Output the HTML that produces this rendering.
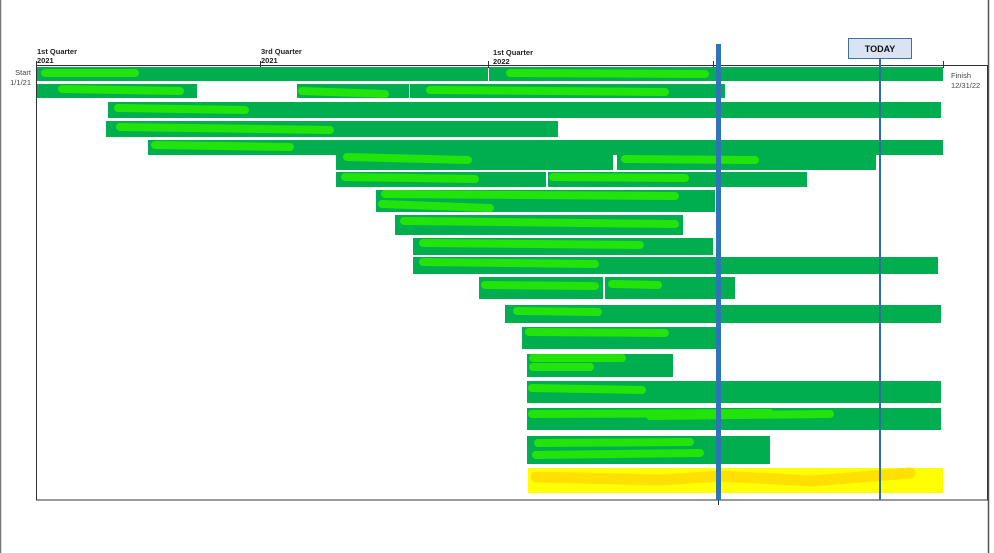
<!DOCTYPE html>
<html><head><meta charset="utf-8"><style>
html,body{margin:0;padding:0;background:#fff;}
svg{display:block;font-family:"Liberation Sans",sans-serif;}
</style></head><body>
<svg width="994" height="553" viewBox="0 0 994 553" xmlns="http://www.w3.org/2000/svg">
<rect x="0" y="0" width="994" height="553" fill="#fff"/>
<line x1="0.5" y1="0" x2="0.5" y2="553" stroke="#777" stroke-width="1.5"/>
<line x1="988.5" y1="0" x2="988.5" y2="553" stroke="#555" stroke-width="1.5"/>
<rect x="36.5" y="65.5" width="951" height="434.5" fill="none" stroke="#333" stroke-width="1"/>
<g stroke="#333" stroke-width="1">
<line x1="36.5" y1="61" x2="36.5" y2="68"/><line x1="260.5" y1="61" x2="260.5" y2="68"/>
<line x1="488.5" y1="61" x2="488.5" y2="68"/><line x1="713.5" y1="61" x2="713.5" y2="68"/>
<line x1="943.5" y1="61" x2="943.5" y2="68"/>
</g>
<g font-size="7.5" font-weight="bold" fill="#222">
<text x="37" y="54">1st Quarter</text><text x="37" y="63">2021</text>
<text x="261" y="54">3rd Quarter</text><text x="261" y="63">2021</text>
<text x="493" y="55">1st Quarter</text><text x="493" y="64">2022</text>
</g>
<g font-size="7.5" fill="#444">
<text x="31" y="75" text-anchor="end">Start</text><text x="31" y="85" text-anchor="end">1/1/21</text>
<text x="951" y="78">Finish</text><text x="951" y="88">12/31/22</text>
</g>
<g fill="#00ae4f">
<rect x="37" y="67" width="451" height="14"/><rect x="489" y="67" width="454" height="14"/>
<rect x="37" y="84" width="160" height="14"/><rect x="297" y="84" width="112" height="14"/><rect x="410" y="84" width="315" height="14"/>
<rect x="108" y="102" width="833" height="16"/>
<rect x="106" y="121" width="452" height="16"/>
<rect x="148" y="140" width="795" height="15"/>
<rect x="336" y="155" width="277" height="15"/><rect x="617" y="155" width="259" height="15"/>
<rect x="336" y="172" width="210" height="15"/><rect x="548" y="172" width="259" height="15"/>
<rect x="376" y="190" width="339" height="22"/>
<rect x="395" y="215" width="288" height="20"/>
<rect x="413" y="238" width="300" height="17"/>
<rect x="413" y="257" width="525" height="17"/>
<rect x="479" y="277" width="124" height="22"/><rect x="605" y="277" width="130" height="22"/>
<rect x="505" y="305" width="436" height="18"/>
<rect x="522" y="327" width="194" height="22"/>
<rect x="527" y="354" width="146" height="23"/>
<rect x="527" y="381" width="414" height="22"/>
<rect x="527" y="408" width="414" height="22"/>
<rect x="527" y="436" width="243" height="28"/>
</g>
<rect x="528" y="468" width="415" height="25" fill="#ffff00"/>
<g stroke="#22e40a" stroke-width="8" stroke-linecap="round" fill="none">
<path d="M45 73 L135 73"/><path d="M62 89 L180 91"/><path d="M302 91 L385 94"/><path d="M430 90 L665 92"/>
<path d="M510 73 L705 74"/><path d="M118 108 L245 110"/><path d="M120 127 L330 130"/>
<path d="M155 145 L290 147"/><path d="M347 157 L468 160"/><path d="M625 159 L755 160"/>
<path d="M345 177 L475 179"/><path d="M553 177 L685 178"/><path d="M385 194 L675 196 M382 204 L490 208"/>
<path d="M404 221 L675 224"/><path d="M423 243 L640 245"/><path d="M423 262 L595 264"/>
<path d="M485 285 L595 286"/><path d="M612 284 L658 285"/><path d="M517 311 L598 312"/>
<path d="M529 332 L665 333"/><path d="M533 358 L622 358 M533 367 L590 367"/>
<path d="M532 388 L642 390"/><path d="M532 414 L770 413 M650 416 L830 414"/>
<path d="M538 443 L690 442 M536 455 L700 453"/>
</g>
<g stroke="#ffe000" stroke-width="11" stroke-linecap="round" fill="none">
<path d="M536 477 L660 480 L720 476 L812 481 L910 473"/>
</g>
<line x1="880" y1="57" x2="880" y2="500" stroke="#2e6fa0" stroke-width="2"/>
<rect x="848.5" y="38.5" width="63" height="20" fill="#dae3f3" stroke="#41719c" stroke-width="1"/>
<text x="880" y="52" font-size="9" font-weight="bold" text-anchor="middle" fill="#111">TODAY</text>
<rect x="716" y="44" width="5" height="456" fill="#2e75b6"/>
<line x1="718.5" y1="500" x2="718.5" y2="505" stroke="#333"/>
</svg>
</body></html>
